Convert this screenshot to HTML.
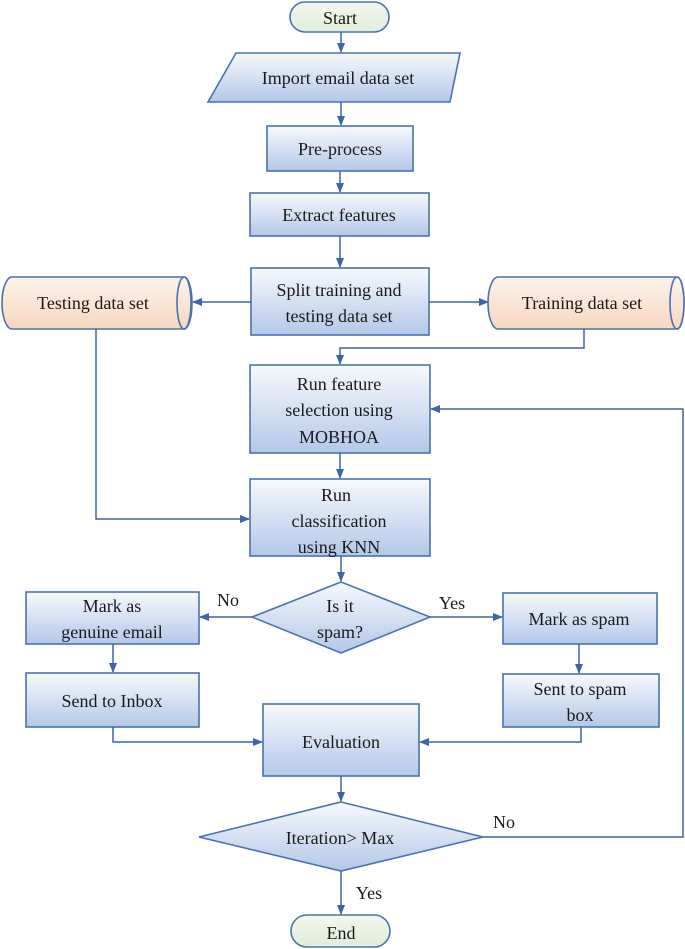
<!DOCTYPE html>
<html><head><meta charset="utf-8"><style>
html,body{margin:0;padding:0;background:#fff;}
svg{display:block;}
text{font-family:"Liberation Serif",serif;font-size:18px;fill:#1a1a1a;text-anchor:middle;}
</style></head><body>
<svg width="685" height="949" viewBox="0 0 685 949" xmlns="http://www.w3.org/2000/svg">
<defs>
<linearGradient id="b" x1="0" y1="0" x2="0" y2="1"><stop offset="0" stop-color="#f7f9fd"/><stop offset="1" stop-color="#b3c8e8"/></linearGradient>
<linearGradient id="g" x1="0" y1="0" x2="0" y2="1"><stop offset="0" stop-color="#f3f8ef"/><stop offset="1" stop-color="#e0edda"/></linearGradient>
<linearGradient id="o" x1="0" y1="0" x2="0" y2="1"><stop offset="0" stop-color="#fdf3ec"/><stop offset="1" stop-color="#f8d6bf"/></linearGradient>
<marker id="a" markerWidth="10" markerHeight="10" refX="9" refY="5" orient="auto" markerUnits="userSpaceOnUse"><path d="M0,1 L10,5 L0,9 Z" fill="#3d64a8"/></marker>
</defs>
<g stroke="#4a72b0" stroke-width="1.6">
<rect x="290" y="2" width="99" height="30" rx="15" fill="url(#g)"/>
<polygon points="236,53 460,53 450,102 208,102" fill="url(#b)"/>
<rect x="267" y="126" width="146" height="45" fill="url(#b)"/>
<rect x="250" y="193" width="179" height="43" fill="url(#b)"/>
<rect x="251" y="268" width="178" height="67" fill="url(#b)"/>
<path d="M12,277 L184,277 A8,26 0 0 1 184,329 L12,329 A10,26 0 0 1 12,277 Z" fill="url(#o)"/>
<ellipse cx="184" cy="303" rx="7" ry="26" fill="url(#o)"/>
<path d="M498,277 L677,277 A7,26 0 0 1 677,329 L498,329 A10,26 0 0 1 498,277 Z" fill="url(#o)"/>
<ellipse cx="677" cy="303" rx="7" ry="26" fill="url(#o)"/>
<rect x="250" y="365" width="180" height="88" fill="url(#b)"/>
<rect x="250" y="479" width="180" height="77" fill="url(#b)"/>
<polygon points="341,582 430,617 341,653 252,617" fill="url(#b)"/>
<rect x="26" y="592" width="173" height="52" fill="url(#b)"/>
<rect x="26" y="673" width="173" height="54" fill="url(#b)"/>
<rect x="503" y="593" width="154" height="51" fill="url(#b)"/>
<rect x="503" y="674" width="156" height="53" fill="url(#b)"/>
<rect x="263" y="704" width="156" height="72" fill="url(#b)"/>
<polygon points="341,802 483,837 341,871 199,837" fill="url(#b)"/>
<rect x="291" y="915" width="99" height="32" rx="16" fill="url(#g)"/>
</g>
<g stroke="#3d64a8" stroke-width="1.5" fill="none">
<line x1="341" y1="32" x2="341" y2="52" marker-end="url(#a)"/>
<line x1="341" y1="102" x2="341" y2="125" marker-end="url(#a)"/>
<line x1="340" y1="171" x2="340" y2="192" marker-end="url(#a)"/>
<line x1="340" y1="236" x2="340" y2="267" marker-end="url(#a)"/>
<line x1="251" y1="302" x2="193" y2="302" marker-end="url(#a)"/>
<line x1="429" y1="302" x2="488" y2="302" marker-end="url(#a)"/>
<polyline points="584,329 584,348 340,348 340,364" marker-end="url(#a)"/>
<line x1="340" y1="453" x2="340" y2="478" marker-end="url(#a)"/>
<polyline points="96,329 96,519 249,519" marker-end="url(#a)"/>
<line x1="341" y1="556" x2="341" y2="581" marker-end="url(#a)"/>
<line x1="252" y1="617" x2="200" y2="617" marker-end="url(#a)"/>
<line x1="430" y1="617" x2="502" y2="617" marker-end="url(#a)"/>
<line x1="113" y1="644" x2="113" y2="672" marker-end="url(#a)"/>
<line x1="579" y1="644" x2="579" y2="673" marker-end="url(#a)"/>
<polyline points="113,727 113,742 262,742" marker-end="url(#a)"/>
<polyline points="581,727 581,742 420,742" marker-end="url(#a)"/>
<line x1="341" y1="776" x2="341" y2="801" marker-end="url(#a)"/>
<polyline points="483,837 683,837 683,409 431,409" marker-end="url(#a)"/>
<line x1="341" y1="871" x2="341" y2="914" marker-end="url(#a)"/>
</g>
<text x="340" y="24">Start</text>
<text x="338" y="84">Import email  data set</text>
<text x="340" y="155">Pre-process</text>
<text x="339" y="221">Extract features</text>
<text x="339" y="296">Split training  and</text>
<text x="339" y="322">testing data set</text>
<text x="93" y="309">Testing data set</text>
<text x="582" y="309">Training  data set</text>
<text x="339" y="390">Run feature</text>
<text x="339" y="416">selection using</text>
<text x="339" y="443">MOBHOA</text>
<text x="336" y="501">Run</text>
<text x="339" y="527">classification</text>
<text x="339" y="553">using KNN</text>
<text x="340" y="612">Is it</text>
<text x="340" y="638">spam?</text>
<text x="112" y="612">Mark as</text>
<text x="112" y="638">genuine  email</text>
<text x="112" y="707">Send to Inbox</text>
<text x="579" y="625">Mark as spam</text>
<text x="580" y="695">Sent to spam</text>
<text x="580" y="721">box</text>
<text x="341" y="748">Evaluation</text>
<text x="340" y="844">Iteration&gt; Max</text>
<text x="341" y="939">End</text>
<text x="228" y="606">No</text>
<text x="452" y="609">Yes</text>
<text x="504" y="828">No</text>
<text x="369" y="899">Yes</text>
</svg>
</body></html>
